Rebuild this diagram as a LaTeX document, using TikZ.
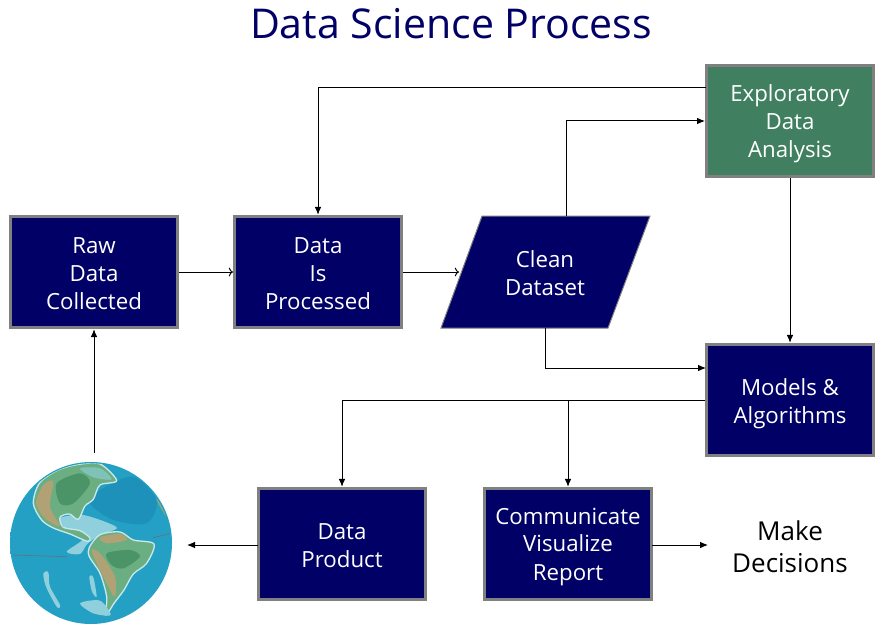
\documentclass[tikz,border=0pt]{standalone}
\usepackage{fontspec}
\setmainfont{Open Sans}
\usetikzlibrary{arrows.meta}
\definecolor{boxblue}{HTML}{000066}
\definecolor{boxgreen}{HTML}{408060}
\definecolor{boxedge}{HTML}{808080}
\definecolor{seablue}{HTML}{23A0C4}
\definecolor{seadeep}{HTML}{1A80AE}
\definecolor{seadark}{HTML}{123F55}
\definecolor{landgreen}{HTML}{6BAE82}
\definecolor{landdark}{HTML}{4A9468}
\definecolor{landtan}{HTML}{B0A274}
\definecolor{shallow}{HTML}{8FD0DC}
\pgfdeclareradialshading{globeshade}{\pgfpoint{0bp}{0bp}}{color(0bp)=(seablue); color(36bp)=(seablue); color(45bp)=(seadeep); color(50bp)=(seadark)}
\newcommand{\toppad}{\rule{0pt}{15pt}}
\tikzset{
    stepnode/.style={draw=boxedge,line width=2.25pt,fill=boxblue,text=white,align=center,
        minimum width=125.25pt,minimum height=83.5pt,inner sep=0pt,font=\fontsize{16.7}{21}\selectfont},
    flowline/.style={-{Latex[length=6pt,width=5pt]},line width=0.75pt},
    thinline/.style={->,line width=0.7pt},
    landmass/.style={fill=landgreen,draw=shallow!50!white,line width=1pt}
}
\begin{document}
\begin{tikzpicture}[x=0.75pt,y=-0.75pt]
            \useasboundingbox (0,0) rectangle (884,631);

            \node (title) at (451, 24) [text=boxblue, font=\fontsize{30.8}{34}\selectfont] {Data Science Process};

            \node[stepnode] (raw) at (94, 272) {\toppad Raw\\Data\\Collected};
            \node[stepnode] (processed) at (318, 272) {\toppad Data\\Is\\Processed};
            \node[stepnode, fill=boxgreen] (eda) at (790, 121) {\rule{0pt}{17pt}Exploratory\\Data\\Analysis};
            \node[stepnode] (models) at (790, 400) {\rule{0pt}{18pt}Models \&\\Algorithms};
            \node[stepnode] (product) at (342, 544) {\toppad Data\\Product};
            \node[stepnode] (report) at (568, 544) {\rule{0pt}{16pt}Communicate\\Visualize\\Report};

            \draw[fill=boxblue, draw=boxedge, line width=0.75pt] (482, 216) -- (650, 216) -- (608, 328) -- (441, 328) -- cycle;
            \node[text=white, align=center, font=\fontsize{16.7}{21}\selectfont] (clean) at (545, 273) {Clean\\Dataset};

            \node[font=\fontsize{19.5}{24}\selectfont, align=center] (decisions) at (790, 547) {Make\\Decisions};

            % globe
            \node[circle, minimum size=121.5pt, inner sep=0pt] (globe) at (91, 543) {};
            \shade[shading=globeshade] (91, 543) circle (81);
            \begin{scope}[shift={(0, 440)}, scale=0.3333]
                \clip (273, 308) circle (238);
                \fill[seadeep, opacity=0.45] plot[smooth cycle] coordinates {(300,150) (400,110) (470,180) (440,250) (340,240) (270,190)};
                \fill[shallow] plot[smooth cycle] coordinates {(180,235) (250,225) (350,262) (300,285) (262,312) (240,342) (200,335) (250,295) (200,268)};
                \draw[landmass] plot[smooth cycle] coordinates {(100,190) (118,130) (170,92) (230,74) (300,72) (350,122) (300,135) (280,178) (255,198) (235,238) (208,222) (180,232) (190,262) (240,272) (270,294) (262,304) (210,282) (160,264) (125,240)};
                \draw[landmass] plot[smooth cycle] coordinates {(268,322) (300,284) (360,276) (400,300) (462,312) (440,370) (400,402) (372,450) (342,490) (318,525) (320,470) (300,400) (268,350)};
                \fill[landgreen!60!landtan] plot[smooth cycle] coordinates {(470,180) (513,250) (513,190) (485,170)};
                \fill[shallow] plot[smooth cycle] coordinates {(240,490) (300,482) (332,525) (280,520)};
                \fill[shallow] plot[smooth cycle] coordinates {(268,410) (280,412) (290,470) (276,455)};
                \fill[shallow] plot[smooth cycle] coordinates {(130,400) (145,397) (150,440) (180,495) (170,500) (138,440)};
                \fill[landtan] plot[smooth cycle] coordinates {(108,190) (130,135) (160,125) (150,200) (180,258) (135,235)};
                \fill[landtan] plot[smooth cycle] coordinates {(275,335) (300,340) (345,410) (345,470) (325,440)};
                \fill[landtan] plot[smooth cycle] coordinates {(300,292) (360,282) (380,300) (320,310)};
                \fill[landdark] plot[smooth cycle] coordinates {(320,340) (390,330) (420,350) (370,385) (335,375)};
                \fill[landdark] plot[smooth cycle] coordinates {(170,130) (240,100) (270,130) (220,190) (180,190)};
                \fill[shallow!60!landgreen] plot[smooth cycle] coordinates {(240,85) (300,85) (335,118) (280,112)};
                \draw[seadark!70, line width=0.6pt] (35, 345) -- (200, 350);
                \draw[seadark!70, line width=0.6pt] (460, 293) -- (515, 280);
            \end{scope}

            \coordinate (edaout) at (706, 88);
            \coordinate (modelsin) at (706, 368);
            \coordinate (cleantop) at (566, 216);
            \coordinate (cleanbottom) at (545, 328);
            \coordinate (cleanleft) at (459, 272);
            \coordinate (reportup) at (568, 400);
            \coordinate (globeout) at (187, 545);
            \coordinate (productout) at (258, 545);
            \coordinate (globeup) at (94, 453);
            \coordinate (reportout) at (652, 545);
            \coordinate (decisionsin) at (708, 545);

            \draw[thinline] (raw) -- (processed);
            \draw[thinline] (processed) -- (cleanleft);
            \draw[flowline] (edaout) -| (processed.north);
            \draw[flowline] (cleantop) |- (eda.west);
            \draw[flowline] (eda) -- (models);
            \draw[flowline] (cleanbottom) |- (modelsin);
            \draw[flowline] (models.west) -| (product.north);
            \draw[flowline] (reportup) -- (report.north);
            \draw[flowline] (productout) -- (globeout);
            \draw[flowline] (reportout) -- (decisionsin);
            \draw[flowline] (globeup) -- (raw.south);
        \end{tikzpicture}
\end{document}
